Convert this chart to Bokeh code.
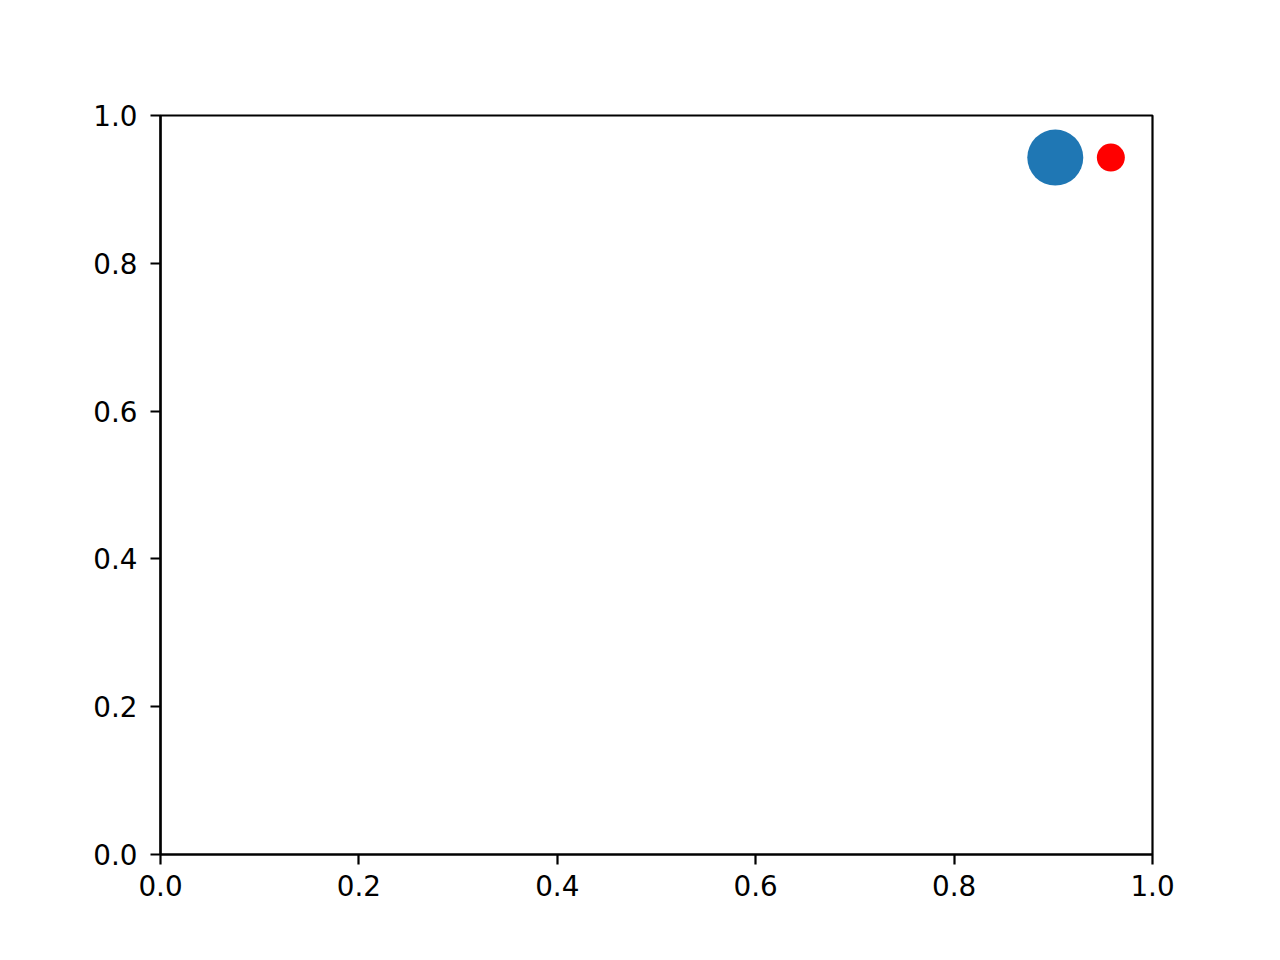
from bokeh.plotting import figure
from bokeh.models import Range1d, FixedTicker, PrintfTickFormatter
from bokeh.embed import file_html
from bokeh.resources import INLINE

# Data
big_x = [0.902]
big_y = [0.943]
small_x = [0.958]
small_y = [0.943]
ticks = [0.0, 0.2, 0.4, 0.6, 0.8, 1.0]

p = figure(width=1264, height=944, output_backend="svg", toolbar_location=None,
           x_range=Range1d(0, 1), y_range=Range1d(0, 1),
           min_border_left=160, min_border_right=112,
           min_border_top=115, min_border_bottom=90)
p.grid.visible = False
p.outline_line_color = "black"
p.outline_line_width = 2.2
p.background_fill_color = "white"
p.border_fill_color = "white"

for ax in (p.xaxis[0], p.yaxis[0]):
    ax.ticker = FixedTicker(ticks=ticks)
    ax.formatter = PrintfTickFormatter(format="%.1f")
    ax.axis_line_width = 2.2
    ax.axis_line_color = "black"
    ax.major_tick_line_width = 2.2
    ax.major_tick_line_color = "black"
    ax.major_tick_out = 10
    ax.major_tick_in = 0
    ax.minor_tick_line_color = None
    ax.major_label_text_font = "DejaVu Sans"
    ax.major_label_text_font_size = "27.8px"
    ax.major_label_text_color = "black"
p.yaxis[0].major_label_standoff = 13
p.xaxis[0].major_label_standoff = 10

p.scatter(big_x, big_y, size=56, fill_color="#1f77b4", line_color=None)
p.scatter(small_x, small_y, size=28, fill_color="red", line_color=None)

open("out.html", "w").write(file_html(p, INLINE))
